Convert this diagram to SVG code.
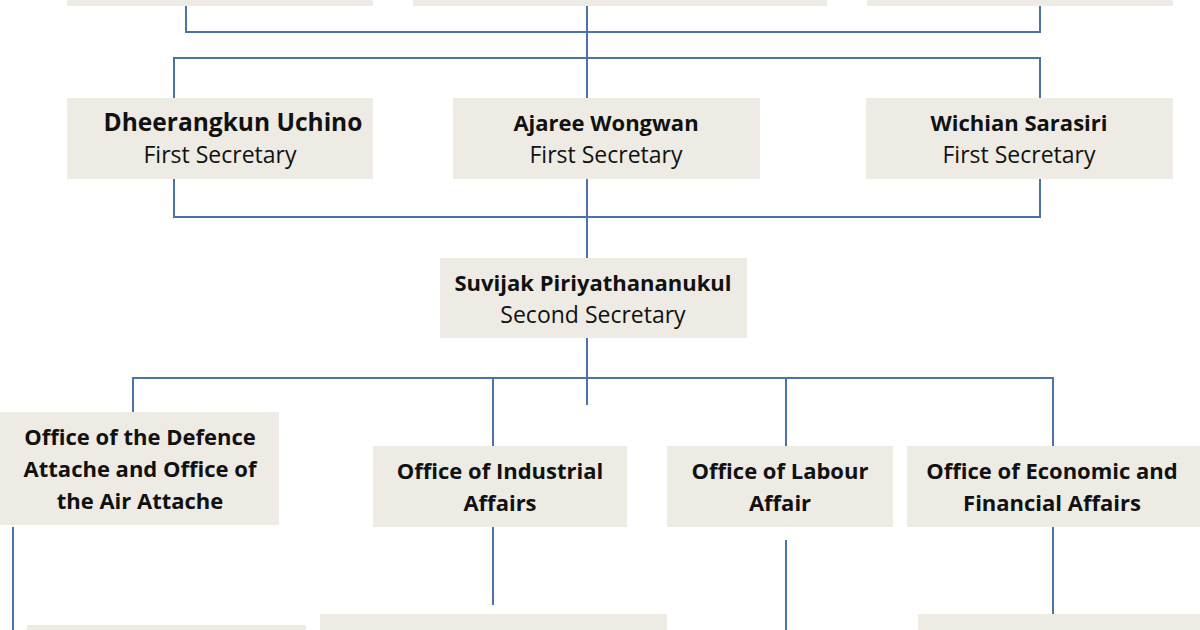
<svg xmlns="http://www.w3.org/2000/svg" width="1200" height="630" viewBox="0 0 1200 630">
<style>
.box{fill:#EDEBE3}
.ln{stroke:#4A73A8;stroke-width:2;fill:none}
.b{font-family:"Open Sans","Liberation Sans",sans-serif;font-weight:bold;font-size:22px;fill:#111;text-anchor:middle}
.r{font-family:"Open Sans","Liberation Sans",sans-serif;font-size:23px;fill:#111;text-anchor:middle}
</style>
<rect width="1200" height="630" fill="#fff"/>
<g id="connectors">
<path class="ln" d="M186 6V32H1040V6"/>
<path class="ln" d="M587 6V378"/>
<path class="ln" d="M174 98V58H1040V98"/>
<path class="ln" d="M174 179V217H1040V179"/>
<path class="ln" d="M133 412V378H1053V446"/>
<path class="ln" d="M493 378V446"/>
<path class="ln" d="M587 378V405"/>
<path class="ln" d="M786 378V446"/>
<path class="ln" d="M13 527V630"/>
<path class="ln" d="M493 527V605"/>
<path class="ln" d="M786 540V630"/>
<path class="ln" d="M1053 527V616"/>
</g>
<g id="top1"><rect class="box" x="67" y="-10" width="306" height="16"/></g>
<g id="top2"><rect class="box" x="413" y="-10" width="414" height="16"/></g>
<g id="top3"><rect class="box" x="867" y="-10" width="306" height="16"/></g>
<g id="dheerangkun"><rect class="box" x="67" y="98" width="306" height="81"/>
<text class="b" x="233" y="131" style="font-size:24.5px">Dheerangkun Uchino</text><text class="r" x="220" y="163">First Secretary</text></g>
<g id="ajaree"><rect class="box" x="453" y="98" width="307" height="81"/>
<text class="b" x="606" y="131">Ajaree Wongwan</text><text class="r" x="606" y="163">First Secretary</text></g>
<g id="wichian"><rect class="box" x="866" y="98" width="307" height="81"/>
<text class="b" x="1019" y="131">Wichian Sarasiri</text><text class="r" x="1019" y="163">First Secretary</text></g>
<g id="suvijak"><rect class="box" x="440" y="258" width="307" height="80"/>
<text class="b" x="593" y="291">Suvijak Piriyathananukul</text><text class="r" x="593" y="323">Second Secretary</text></g>
<g id="defence"><rect class="box" x="0" y="412" width="279" height="113"/>
<text class="b" x="140" y="445">Office of the Defence</text><text class="b" x="140" y="477">Attache and Office of</text><text class="b" x="140" y="509">the Air Attache</text></g>
<g id="industrial"><rect class="box" x="373" y="446" width="254" height="81"/>
<text class="b" x="500" y="479">Office of Industrial</text><text class="b" x="500" y="511">Affairs</text></g>
<g id="labour"><rect class="box" x="667" y="446" width="226" height="81"/>
<text class="b" x="780" y="479">Office of Labour</text><text class="b" x="780" y="511">Affair</text></g>
<g id="economic"><rect class="box" x="907" y="446" width="293" height="81"/>
<text class="b" x="1052" y="479">Office of Economic and</text><text class="b" x="1052" y="511">Financial Affairs</text></g>
<g id="bottom1"><rect class="box" x="27" y="625" width="279" height="10"/></g>
<g id="bottom2"><rect class="box" x="320" y="614" width="347" height="20"/></g>
<g id="bottom3"><rect class="box" x="918" y="614" width="290" height="20"/></g>
</svg>
